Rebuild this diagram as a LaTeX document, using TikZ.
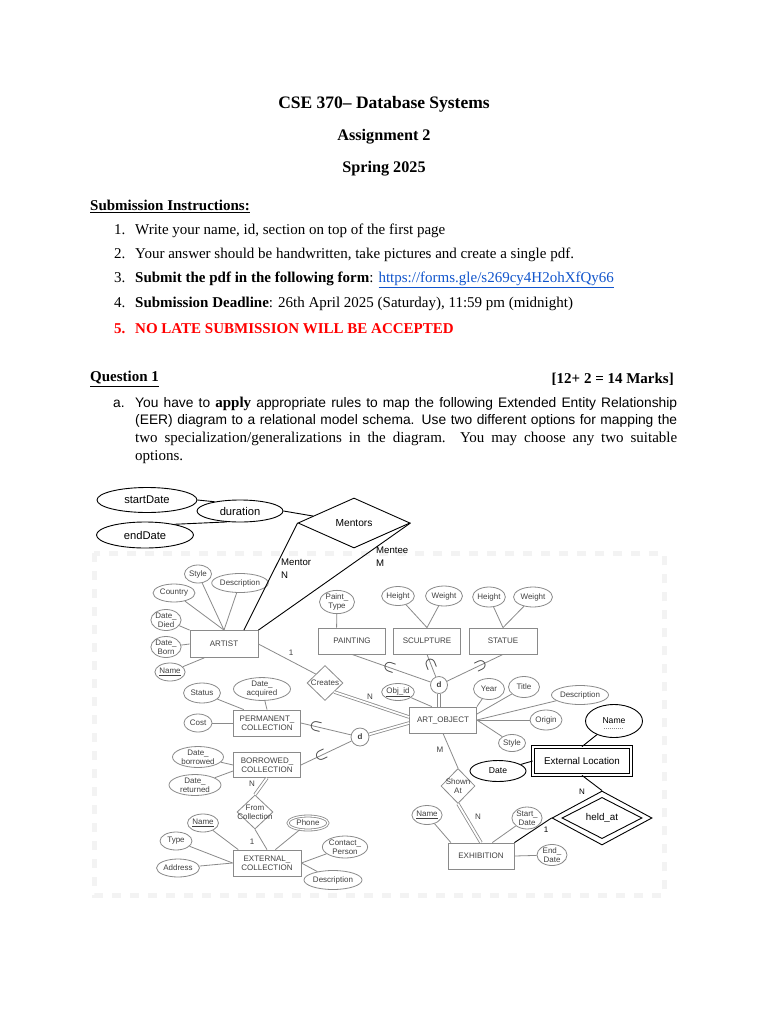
\documentclass[tikz,border=0pt]{standalone}
\usepackage{fontspec}
\setmainfont{Liberation Serif}
\setsansfont{Liberation Sans}
\usepackage{xcolor}
\usepackage{tikz}
\usetikzlibrary{shapes.geometric,calc,positioning}
\definecolor{LineGray}{HTML}{8A8A8A}
\definecolor{TextGray}{HTML}{404040}
\definecolor{FrameGray}{HTML}{F3F3F3}
\definecolor{LinkBlue}{HTML}{1155CC}
\definecolor{AlertRed}{HTML}{FF0000}
\newcommand\erfont{\sffamily\fontsize{8}{9}\selectfont}
\newcommand\topfont{\sffamily\fontsize{11.2}{12}\selectfont}
\newcommand\parasans{\sffamily\fontsize{13.8}{16}\selectfont}
\tikzset{
  % page text
  pg/.style={anchor=west,inner sep=0pt,font=\fontsize{15}{18}\selectfont},
  hd/.style={inner sep=0pt,font=\fontsize{16.2}{19}\selectfont\bfseries},
  % gray EER shapes
  ent/.style={rectangle,draw=LineGray,line width=0.8pt,text=TextGray,font=\erfont,
              align=center,inner sep=1pt,minimum width=67pt,minimum height=26pt},
  attr/.style={ellipse,draw=LineGray,line width=0.8pt,text=TextGray,font=\erfont,
               align=center,inner sep=0pt},
  rel/.style={diamond,draw=LineGray,line width=0.8pt,text=TextGray,font=\erfont,
              align=center,inner sep=0pt},
  spec/.style={circle,draw=LineGray,line width=0.8pt,text=TextGray,font=\erfont\bfseries,
               inner sep=0pt,minimum size=17pt},
  link/.style={draw=LineGray,line width=0.8pt},
  total/.style={link,double=white,double distance=1.8pt},
  card/.style={font=\erfont,text=TextGray,inner sep=0.5pt},
  subs/.style={sloped,allow upside down,inner sep=0pt,text=TextGray,
               font=\fontsize{15}{15}\selectfont\boldmath},
  % black shapes added on top
  tattr/.style={ellipse,draw=black,line width=0.9pt,font=\topfont,inner sep=0pt},
  trel/.style={diamond,draw=black,line width=0.9pt,font=\sffamily\fontsize{10.2}{11}\selectfont,
               inner sep=0pt},
  bent/.style={rectangle,draw=black,line width=0.8pt,double,double distance=2pt,
               font=\sffamily\fontsize{9.8}{11}\selectfont,minimum width=98pt,minimum height=28pt},
  battr/.style={ellipse,draw=black,line width=0.9pt,font=\sffamily\fontsize{8.6}{10}\selectfont,
                inner sep=0pt},
  brel/.style={diamond,draw=black,line width=0.9pt,font=\sffamily\fontsize{9.8}{11}\selectfont,
               inner sep=0pt},
  bline/.style={draw=black,line width=0.9pt},
  bcard/.style={font=\erfont,text=black,inner sep=0.5pt},
  role/.style={anchor=north west,align=left,inner sep=0pt,
               font=\sffamily\fontsize{9.6}{13}\selectfont}
}
\begin{document}
\begin{tikzpicture}[x=1pt,y=-1pt]
  \useasboundingbox (0,0) rectangle (768,1024);
  \fill[white] (0,0) rectangle (768,1024);

  % heading
  \node[font=\fontsize{17.5}{20}\selectfont\bfseries,inner sep=0pt] (title) at (384,104) {CSE 370– Database Systems};
  \node[hd] (asg)  at (384,137) {Assignment 2};
  \node[hd] (term) at (384,169) {Spring 2025};

  % instructions
  \node[pg] (subhd) at (90,206) {\textbf{\underline{Submission Instructions:}}};
  \node[pg] (it1) at (114,231) {\makebox[21pt][l]{1.}Write your name, id, section on top of the first page};
  \node[pg] (it2) at (114,255) {\makebox[21pt][l]{2.}Your answer should be handwritten, take pictures and create a single pdf.};
  \node[pg] (it3) at (114,280) {\makebox[21pt][l]{3.}\textbf{Submit the pdf in the following form}: \textcolor{LinkBlue}{\underline{https://forms.gle/s269cy4H2ohXfQy66}}};
  \node[pg] (it4) at (114,304) {\makebox[21pt][l]{4.}\textbf{Submission Deadline}: 26th April 2025 (Saturday), 11:59 pm (midnight)};
  \node[pg,text=AlertRed] (it5) at (114,329) {\bfseries\makebox[21pt][l]{5.}NO LATE SUBMISSION WILL BE ACCEPTED};

  % question
  \node[pg] (q1) at (90,379) {\textbf{\underline{Question 1}}};
  \node[pg,anchor=east] (marks) at (674,379) {\textbf{[12+ 2 = 14 Marks]}};
  \node[pg,font=\parasans] (pa) at (113,404) {a.};
  \node[pg,font=\parasans] (pl1) at (135,404) {\makebox[542pt][s]{You have to {\rmfamily\bfseries\fontsize{15}{16}\selectfont apply} appropriate rules to map the following Extended Entity Relationship}};
  \node[pg,font=\parasans] (pl2) at (135,421) {\makebox[542pt][s]{(EER) diagram to a relational model schema. Use two different options for mapping the}};
  \node[pg] (pl3) at (135,439) {\makebox[542pt][s]{two specialization/generalizations in the diagram. You may choose any two suitable}};
  \node[pg] (pl4) at (135,457) {options.};

  % border of the pasted diagram
  \draw[FrameGray,line width=5pt,dash pattern=on 9pt off 9pt] (94,553) rectangle (664,895);

  % mentoring relationship (black)
  \node[tattr,minimum width=100pt,minimum height=25pt] (start) at (147,500) {startDate};
  \node[tattr,minimum width=86pt,minimum height=22pt] (dur) at (240,511) {duration};
  \node[tattr,minimum width=97pt,minimum height=26pt] (enddate) at (145,535) {endDate};
  \node[trel,minimum width=112pt,minimum height=50pt] (mentors) at (354,523) {Mentors};
  \node[role] (mentor) at (281,559) {Mentor\\N};
  \node[role] (mentee) at (376,547) {Mentee\\M};

  % entities
  \node[ent,minimum width=68pt,minimum height=27pt] (artist) at (224,644) {ARTIST};
  \node[ent] (painting)  at (352,641) {PAINTING};
  \node[ent] (sculpture) at (427,641) {SCULPTURE};
  \node[ent,minimum width=68pt] (statue) at (503,641) {STATUE};
  \node[ent] (artobject) at (443,720) {ART\_OBJECT};
  \node[ent] (permcoll)  at (267,723) {PERMANENT\_\\COLLECTION};
  \node[ent,minimum height=25pt] (borrcoll) at (267,765) {BORROWED\_\\COLLECTION};
  \node[ent,minimum width=68pt] (extcoll) at (267,863) {EXTERNAL\_\\COLLECTION};
  \node[ent,minimum width=66pt] (exhibition) at (481,856) {EXHIBITION};
  \node[bent] (extloc) at (582,761) {External Location};

  % relationships and specializations
  \node[rel,minimum width=36pt,minimum height=35pt] (creates) at (325,683) {\makebox[0pt]{Creates}};
  \node[rel,minimum width=34pt,minimum height=35pt] (shownat) at (458,786) {\makebox[0pt]{Shown}\\\makebox[0pt]{At}};
  \node[rel,minimum width=36pt,minimum height=34pt] (fromcoll) at (255,812) {\makebox[0pt]{From}\\\makebox[0pt]{Collection}};
  \node[brel,minimum width=100pt,minimum height=54pt] (heldat) at (602,818) {};
  \node[brel,minimum width=80pt,minimum height=35pt] (heldatin) at (heldat.center) {held\_at};
  \node[spec] (dspec) at (439,685) {d};
  \node[spec,minimum size=18pt] (dcoll) at (360,737) {d};

  % attributes of ARTIST
  \node[attr,minimum width=27pt,minimum height=18pt] (astyle)   at (198,574) {Style};
  \node[attr,minimum width=52pt,minimum height=19pt] (adesc)    at (240,583) {Description};
  \node[attr,minimum width=42pt,minimum height=18pt] (acountry) at (174,593) {Country};
  \node[attr,minimum width=30pt,minimum height=21pt] (adied)    at (166,620) {Date\_\\Died};
  \node[attr,minimum width=30pt,minimum height=21pt] (aborn)    at (166,647) {Date\_\\Born};
  \node[attr,minimum width=28pt,minimum height=18pt] (aname)    at (170,672) {\underline{Name}};

  % attributes of the subclasses
  \node[attr,minimum width=35pt,minimum height=21pt] (painttype) at (337,602) {Paint\_\\Type};
  \node[attr,minimum width=32pt,minimum height=19pt] (sheight) at (398,596) {Height};
  \node[attr,minimum width=37pt,minimum height=20pt] (sweight) at (444,596) {Weight};
  \node[attr,minimum width=32pt,minimum height=20pt] (theight) at (489,597) {Height};
  \node[attr,minimum width=39pt,minimum height=20pt] (tweight) at (533,597) {Weight};

  % attributes of ART_OBJECT
  \node[attr,minimum width=28pt,minimum height=17pt] (objid)   at (398,692) {\underline{Obj\_id}};
  \node[attr,minimum width=31pt,minimum height=21pt] (oyear)   at (489,689) {Year};
  \node[attr,minimum width=31pt,minimum height=21pt] (otitle)  at (524,687) {Title};
  \node[attr,minimum width=57pt,minimum height=19pt] (odesc)   at (580,695) {Description};
  \node[attr,minimum width=32pt,minimum height=20pt] (oorigin) at (546,720) {Origin};
  \node[attr,minimum width=27pt,minimum height=17pt] (ostyle)  at (512,743) {Style};

  % attributes of the collections
  \node[attr,minimum width=37pt,minimum height=20pt] (cstatus)   at (202,693) {Status};
  \node[attr,minimum width=57pt,minimum height=19pt] (cacq)      at (262,689) {Date\_\\acquired};
  \node[attr,minimum width=28pt,minimum height=18pt] (ccost)     at (198,723) {Cost};
  \node[attr,minimum width=51pt,minimum height=21pt] (cborrowed) at (198,757) {Date\_\\borrowed};
  \node[attr,minimum width=52pt,minimum height=21pt] (creturned) at (195,785) {Date\_\\returned};
  \node[attr,minimum width=31pt,minimum height=18pt] (ename)     at (203,823) {\underline{Name}};
  \node[attr,double=white,double distance=1.2pt,minimum width=40pt,minimum height=14pt] (ephone) at (308,823) {Phone};
  \node[attr,minimum width=32pt,minimum height=18pt] (etype)     at (176,841) {Type};
  \node[attr,minimum width=43pt,minimum height=18pt] (eaddress)  at (178,868) {Address};
  \node[attr,minimum width=38pt,minimum height=22pt] (econtact)  at (345,847) {Contact\_\\Person};
  \node[attr,minimum width=58pt,minimum height=19pt] (edesc)     at (333,880) {Description};

  % attributes of EXHIBITION and External Location
  \node[attr,minimum width=30pt,minimum height=19pt] (xname)  at (427,815) {\underline{Name}};
  \node[attr,minimum width=28pt,minimum height=22pt] (xstart) at (527,818) {Start\_\\Date};
  \node[attr,minimum width=30pt,minimum height=20pt] (xend)   at (552,855) {End\_\\Date};
  \node[battr,minimum width=56pt,minimum height=21pt] (ldate) at (498,771) {Date};
  \node[battr,minimum width=57pt,minimum height=33pt] (lname) at (614,721) {Name};
  \draw[LineGray,line width=0.4pt,dash pattern=on 1pt off 1pt] ($(lname.center)+(-10,7)$) -- ($(lname.center)+(10,7)$);

  % cardinalities
  \node[card] (cart)  at (291,653) {1};
  \node[card] (cobj)  at (370,697) {N};
  \node[card] (cbor)  at (252,784) {N};
  \node[card] (cext)  at (252,842) {1};
  \node[card] (cshm)  at (440,750) {M};
  \node[card] (cshn)  at (478,817) {N};
  \node[bcard] (chel) at (546,830) {1};
  \node[bcard] (cloc) at (582,792) {N};

  % black connectors
  \draw[bline] (start.east) -- (dur.160);
  \draw[bline] (enddate.20) -- (dur.220);
  \draw[bline] (dur.east) -- (mentors);
  \draw[bline] (mentors.west) -- (artist.35);
  \draw[bline] (mentors.east) -- (artist.north east);
  \draw[bline] (exhibition.north east) -- (heldat.west);
  \draw[bline] (heldat.north) -- (extloc.south);
  \draw[bline] (ldate) -- (extloc.west);
  \draw[bline] (lname) -- (extloc.north);

  % ARTIST
  \draw[link] (acountry) -- (artist.north);
  \draw[link] (astyle) -- (artist.north);
  \draw[link] (adesc) -- (artist.north);
  \draw[link] (adied) -- (artist.north west);
  \draw[link] (aborn) -- (artist.west);
  \draw[link] (aname) -- (artist.-145);
  \draw[link] (artist.east) -- (creates.north west);
  \draw[total] (creates.south east) -- (artobject.175);

  % specialization of ART_OBJECT
  \draw[link] (painttype) -- (painting.139);
  \draw[link] (sheight) -- (sculpture.north);
  \draw[link] (sweight) -- (sculpture.north);
  \draw[link] (theight) -- (statue.north);
  \draw[link] (tweight) -- (statue.north);
  \draw[link] (painting.south) -- node[subs,pos=.48] (sub1) {$\subset$} (dspec);
  \draw[link] (sculpture.south) -- node[subs,pos=.42] (sub2) {$\subset$} (dspec);
  \draw[link] (statue.south) -- node[subs,pos=.4] (sub3) {$\subset$} (dspec);
  \draw[total] (dspec) -- (dspec |- artobject.north);

  % ART_OBJECT
  \draw[link] (objid) -- (artobject.130);
  \draw[link] (oyear) -- (artobject.north east);
  \draw[link] (otitle) -- (artobject.10);
  \draw[link] (odesc) -- (artobject.east);
  \draw[link] (oorigin) -- (artobject.east);
  \draw[link] (ostyle) -- (artobject.east);
  \draw[link] (artobject.south) -- (shownat.north);
  \draw[total] (shownat.south) -- (exhibition.north);

  % collections
  \draw[link] (permcoll.east) -- node[subs,pos=.3] (sub4) {$\subset$} (dcoll);
  \draw[link] (borrcoll.east) -- node[subs,pos=.4] (sub5) {$\subset$} (dcoll);
  \draw[total] (dcoll) -- (artobject.185);
  \draw[link] (cstatus) -- (permcoll.150);
  \draw[link] (cacq) -- (permcoll.north);
  \draw[link] (ccost) -- (permcoll.west);
  \draw[link] (cborrowed) -- (borrcoll.west);
  \draw[link] (creturned) -- (borrcoll.190);
  \draw[total] (borrcoll.south) -- (fromcoll.north);
  \draw[link] (fromcoll.south) -- (extcoll.north);
  \draw[link] (ename) -- (extcoll.155);
  \draw[link] (ephone) -- (extcoll.58);
  \draw[link] (etype) -- (extcoll.west);
  \draw[link] (eaddress) -- (extcoll.west);
  \draw[link] (econtact) -- (extcoll.east);
  \draw[link] (edesc) -- (extcoll.east);

  % EXHIBITION
  \draw[link] (xname) -- (exhibition.156);
  \draw[link] (xstart) -- (exhibition.50);
  \draw[link] (xend) -- (exhibition.east);
\end{tikzpicture}
\end{document}
